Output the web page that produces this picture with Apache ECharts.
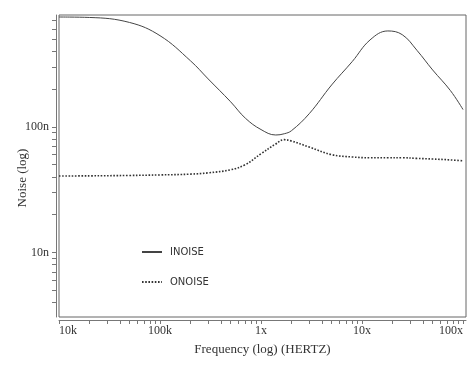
<!DOCTYPE html>
<html>
<head>
<meta charset="utf-8">
<script src="https://cdn.jsdelivr.net/npm/echarts@6/dist/echarts.min.js"></script>
<style>
  html, body { margin: 0; background: #fff; }
  #chart { width: 474px; height: 365px; }
</style>
</head>
<body>
<div id="chart"></div>
<script>
// frequency points (Hz)
var freq = [1e4, 2e4, 5e4, 1e5, 2e5, 3e5, 5e5, 7e5, 1e6, 1.4e6, 1.7e6, 2e6, 3e6, 5e6, 8e6, 1.2e7, 1.8e7, 2.5e7, 3.5e7, 5e7, 7.5e7, 1e8];
// noise in nV
var inoise = [746, 740, 675, 530, 335, 240, 158, 117, 95, 86, 88, 93, 127, 215, 330, 490, 578, 540, 405, 283, 194, 137];
var onoise = [40.6, 40.7, 41.0, 41.4, 42, 43, 45.5, 50, 61, 73, 79, 77, 69, 60, 57.5, 56.7, 56.7, 56.7, 56, 55.4, 54.5, 53.6];

var xTickVals = [1e4, 1e5, 1e6, 1e7, 1e8];
var xTickText = ['10k', '100k', '1x', '10x', '100x'];
var yTickVals = [10, 100];
var yTickText = ['10n', '100n'];

// minor ticks 1..9 per decade
function decadeTicks(from, to) {
  var out = [];
  for (var d = from; d <= to * 1.0001; d *= 10) {
    for (var k = 1; k <= 9; k++) out.push(d * k);
  }
  return out;
}

function pick(vals, texts) {
  return function (v) {
    var i = vals.findIndex(function (t) { return Math.abs(t - v) / t < 1e-6; });
    return i < 0 ? '' : texts[i];
  };
}

var serif = 'Liberation Serif';
var chart = echarts.init(document.getElementById('chart'));

chart.setOption({
  animation: false,
  grid: {
    left: 59,
    right: 8,
    top: 15,
    bottom: 48,
    show: true,
    borderColor: '#666',
    borderWidth: 1
  },
  legend: {
    data: ['INOISE', 'ONOISE'],
    orient: 'vertical',
    left: 136,
    top: 242,
    itemWidth: 20,
    itemHeight: 10,
    itemGap: 20,
    itemStyle: { opacity: 0 },
    textStyle: {
      fontFamily: 'DejaVu Sans',
      fontSize: 10,
      color: '#333',
      padding: [0, 0, 0, 3]
    }
  },
  xAxis: {
    type: 'log',
    min: 1e4,
    max: 1.07e8,
    offset: 3,
    name: 'Frequency (log) (HERTZ)',
    nameLocation: 'middle',
    nameGap: 23,
    nameTextStyle: { fontFamily: serif, fontSize: 13, color: '#333' },
    axisLine: { lineStyle: { color: '#777' } },
    axisTick: {
      length: 4,
      customValues: decadeTicks(1e4, 1e7).concat([1e8]),
      lineStyle: { color: '#777' }
    },
    axisLabel: {
      customValues: xTickVals,
      formatter: pick(xTickVals, xTickText),
      margin: 5,
      fontFamily: serif,
      fontSize: 12,
      color: '#333',
      alignMinLabel: 'left',
      alignMaxLabel: 'right'
    },
    splitLine: { show: false }
  },
  yAxis: {
    type: 'log',
    min: 3.07,
    max: 774,
    offset: 3,
    name: 'Noise (log)',
    nameLocation: 'middle',
    nameGap: 27,
    nameMoveOverlap: false,
    nameTextStyle: { fontFamily: serif, fontSize: 13, color: '#333', padding: [0, 24, 0, 0] },
    axisLine: { show: true, lineStyle: { color: '#777' } },
    axisTick: {
      show: true,
      length: 4,
      customValues: decadeTicks(1, 100).filter(function (v) { return v >= 3.07 && v <= 774; }),
      lineStyle: { color: '#777' }
    },
    axisLabel: {
      customValues: yTickVals,
      formatter: pick(yTickVals, yTickText),
      margin: 7,
      fontFamily: serif,
      fontSize: 12,
      color: '#333'
    },
    splitLine: { show: false }
  },
  series: [{
    name: 'INOISE',
    type: 'line',
    data: freq.map(function (f, i) { return [f, inoise[i]]; }),
    symbol: 'none',
    smooth: 0.4,
    lineStyle: { color: '#444', width: 1 },
    itemStyle: { color: '#444' }
  }, {
    name: 'ONOISE',
    type: 'line',
    data: freq.map(function (f, i) { return [f, onoise[i]]; }),
    symbol: 'none',
    smooth: 0.4,
    lineStyle: { color: '#333', width: 1.6, type: [1.6, 1.6] },
    itemStyle: { color: '#333' }
  }]
});
</script>
</body>
</html>
